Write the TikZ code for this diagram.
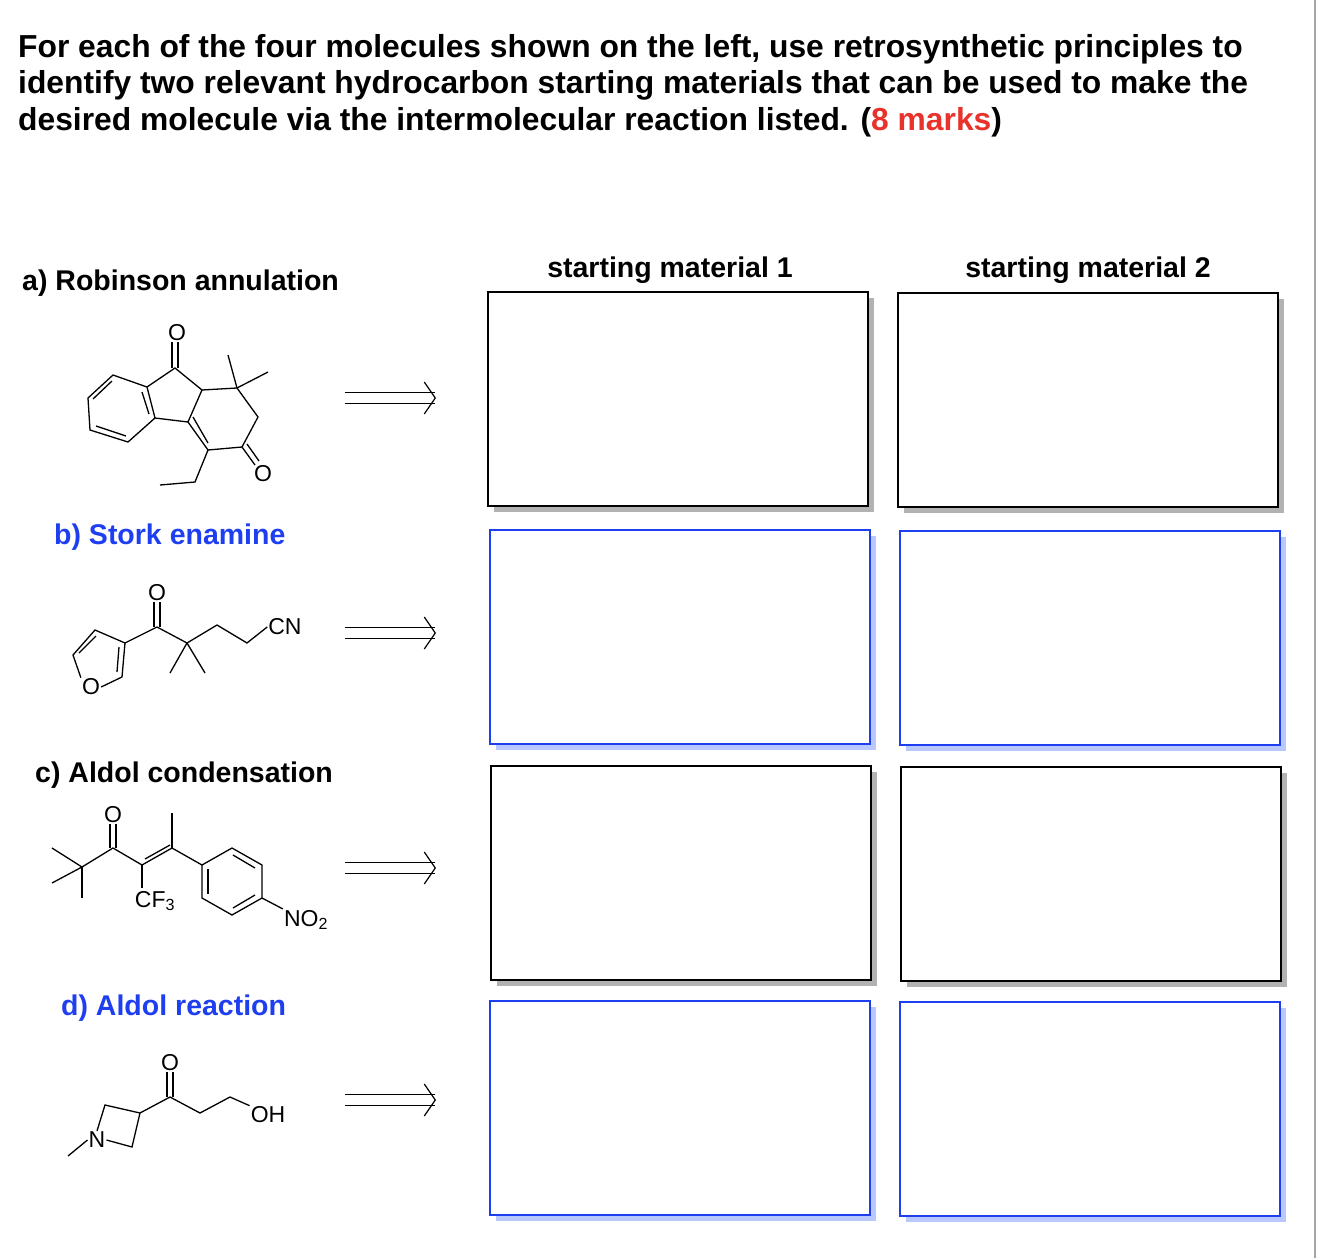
\documentclass[tikz,border=0pt]{standalone}
\usepackage{fontspec}
\setmainfont{Liberation Sans}
\usetikzlibrary{arrows.meta}
\definecolor{qblue}{HTML}{1E3FF0}
\definecolor{qred}{HTML}{E8322B}
\definecolor{bshadow}{HTML}{B8C8FF}
\tikzset{
 bond/.style={line width=1.3pt},
 atom/.style={inner sep=1pt,font=\fontsize{23}{23}\selectfont},
 lbl/.style={anchor=west,inner sep=0pt,font=\fontsize{28.5}{28.5}\selectfont\bfseries},
 box/.style={draw,line width=1.2pt,fill=white},
 bbox/.style={draw=qblue,line width=1.2pt,fill=white},
 retro/.style={double distance=10pt,line width=1.2pt,-{Straight Barb[length=11pt,width=32pt,line width=1.2pt]}},
}
\begin{document}
\begin{tikzpicture}[x=1pt,y=-1pt]
\useasboundingbox (0,0) rectangle (1322,1258);
\draw[gray!70,line width=2pt] (1315,0) -- (1315,1258);
\node[anchor=north west,align=left,inner sep=0pt,font=\fontsize{31.8}{36.5}\selectfont\bfseries] (title) at (18,34)
{For each of the four molecules shown on the left, use retrosynthetic principles to\\identify two relevant hydrocarbon starting materials that can be used to make the\\desired molecule via the intermolecular reaction listed. (\textcolor{qred}{8 marks})};
\node[font=\fontsize{28.5}{28.5}\selectfont\bfseries] (h1) at (670,270) {starting material 1};
\node[font=\fontsize{28.5}{28.5}\selectfont\bfseries] (h2) at (1088,270) {starting material 2};
\node[lbl] (la) at (22,283) {a) Robinson annulation};
\node[lbl,text=qblue] (lb) at (54,537) {b) Stork enamine};
\node[lbl] (lc) at (35,775) {c) Aldol condensation};
\node[lbl,text=qblue] (ld) at (61,1008) {d) Aldol reaction};
% boxes
\foreach \x/\y/\n in {488/292/a1,898/293/a2,491/766/c1,901/767/c2}{
 \fill[gray!60] (\x+6,\y+6) rectangle (\x+386,\y+220);
 \draw[box] (\x,\y) rectangle node (\n) {} (\x+380,\y+214);}
\foreach \x/\y/\n in {490/530/b1,900/531/b2,490/1001/d1,900/1002/d2}{
 \fill[bshadow] (\x+6,\y+6) rectangle (\x+386,\y+220);
 \draw[bbox] (\x,\y) rectangle node (\n) {} (\x+380,\y+214);}
% arrows
\foreach \y/\n in {398/ra,633/rb,868/rc,1100/rd}{
 \coordinate (\n s) at (345,\y); \coordinate (\n e) at (436,\y);
 \draw[retro] (\n s) -- (\n e);}
% molecule a
\node[atom] (aO1) at (177,333) {O};
\node[atom] (aO2) at (263,474) {O};
\draw[bond] (113,375) -- (147,387) -- (155,418) -- (128,442) -- (90,430) -- (88,398) -- cycle;
\draw[bond] (112,381) -- (93,399);
\draw[bond] (142,392) -- (149,414);
\draw[bond] (126,436) -- (96,426);
\draw[bond] (147,387) -- (175,368) -- (202,390) -- (188,422) -- (155,418);
\draw[bond] (202,390) -- (237,388) -- (258,417) -- (242,447) -- (208,450) -- (188,422);
\draw[bond] (193,417) -- (208,443);
\draw[bond] (237,388) -- (228,355);
\draw[bond] (237,388) -- (268,372);
\draw[bond] (208,450) -- (195,482) -- (160,485);
\draw[bond] (172,368) -- (aO1.south -| 172,0);
\draw[bond] (178,368) -- (aO1.south -| 178,0);
\draw[bond] (242,447) -- (255,465);
\draw[bond] (247,444) -- (259,461);
% molecule b
\node[atom] (bO1) at (157,593) {O};
\node[atom] (bCN) at (285,627) {CN};
\node[atom] (bO2) at (91,687) {O};
\draw[bond] (154,627) -- (bO1.south -| 154,0);
\draw[bond] (160,627) -- (bO1.south -| 160,0);
\draw[bond] (125,643) -- (157,627) -- (187,643) -- (217,625) -- (247,643) -- (bCN.west);
\draw[bond] (187,643) -- (170,673);
\draw[bond] (187,643) -- (205,673);
\draw[bond] (125,643) -- (122,677) -- (bO2.east);
\draw[bond] (bO2.north west) -- (73,655) -- (95,630) -- (125,643);
\draw[bond] (119,647) -- (117,672);
\draw[bond] (79,653) -- (96,636);
% molecule c
\node[atom] (cO) at (113,815) {O};
\node[atom] (cCF) at (155,901) {CF\textsubscript{3}};
\node[atom] (cNO) at (306,920) {NO\textsubscript{2}};
\draw[bond] (110,848) -- (cO.south -| 110,0);
\draw[bond] (116,848) -- (cO.south -| 116,0);
\draw[bond] (52,848) -- (82,867) -- (52,883);
\draw[bond] (82,867) -- (82,898);
\draw[bond] (82,867) -- (113,848) -- (142,865) -- (172,848) -- (202,865);
\draw[bond] (145,859) -- (170,845);
\draw[bond] (142,865) -- (142,888);
\draw[bond] (172,848) -- (172,813);
\draw[bond] (202,865) -- (232,848) -- (262,865) -- (262,898) -- (232,915) -- (202,898) -- cycle;
\draw[bond] (233,855) -- (255,868);
\draw[bond] (208,869) -- (208,894);
\draw[bond] (233,908) -- (255,895);
\draw[bond] (262,898) -- (cNO.north west);
% molecule d
\node[atom] (dO) at (170,1063) {O};
\node[atom] (dOH) at (268,1115) {OH};
\node[atom] (dN) at (97,1140) {N};
\draw[bond] (167,1097) -- (dO.south -| 167,0);
\draw[bond] (173,1097) -- (dO.south -| 173,0);
\draw[bond] (140,1113) -- (170,1097) -- (200,1113) -- (230,1097) -- (dOH.north west);
\draw[bond] (140,1113) -- (105,1105) -- (dN.north);
\draw[bond] (dN.east) -- (132,1147) -- (140,1113);
\draw[bond] (dN.west) -- (68,1156);
\end{tikzpicture}
\end{document}
